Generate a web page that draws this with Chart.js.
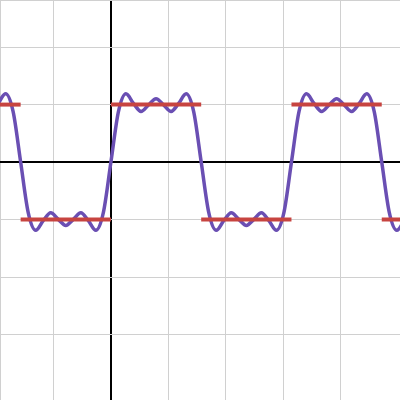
<!DOCTYPE html>
<html><head><style>html,body{margin:0;padding:0;background:#fff}</style>
<script src="https://cdn.jsdelivr.net/npm/chart.js@4"></script></head>
<body><canvas id="c" width="400" height="400"></canvas>
<script>
const stepIdx=[];for(let k=-15;k<=39;k++)stepIdx.push(k);
const curveY=[1.020,1.188,0.876,0,-0.876,-1.188,-1.020,-0.882,-0.996,-1.103,-0.996,-0.882,-1.020,-1.188,-0.876,
0,0.876,1.188,1.020,0.882,0.996,1.103,0.996,0.882,1.020,1.188,0.876,
0,-0.876,-1.188,-1.020,-0.882,-0.996,-1.103,-0.996,-0.882,-1.020,-1.188,-0.876,
0,0.876,1.188,1.020,0.882,0.996,1.103,0.996,0.882,1.020,1.188,0.876,
0,-0.876,-1.188,-1.020];
const curve=stepIdx.map((k,i)=>({x:k*Math.PI/24,y:curveY[i]}));
const H=Math.PI/2;
const segStarts=[-2,-H,0,H,Math.PI,3*H];
const segEnds=[-H,0,H,Math.PI,3*H,6];
const segLevels=[1,-1,1,-1,1,-1];
const datasets=segStarts.map((s,i)=>({data:[{x:s,y:segLevels[i]},{x:segEnds[i],y:segLevels[i]}],borderColor:'#c74440',borderWidth:4,pointRadius:0}));
datasets.push({data:curve,borderColor:'#6a4fb3',borderWidth:3.5,pointRadius:0,cubicInterpolationMode:'monotone'});
const gridCfg={color:c=>c.tick&&c.tick.value===0?'#000':'#d0d0d0',lineWidth:c=>c.tick&&c.tick.value===0?2:1,drawTicks:false};
new Chart(document.getElementById('c'),{type:'line',data:{datasets},
options:{responsive:false,animation:false,layout:{padding:0},plugins:{legend:{display:false},tooltip:{enabled:false}},
scales:{x:{type:'linear',min:-1.93,max:5.03,ticks:{display:false,stepSize:1},grid:gridCfg,border:{display:false}},
y:{type:'linear',min:-4.14,max:2.82,ticks:{display:false,stepSize:1},grid:gridCfg,border:{display:false}}}}});
</script></body></html>
